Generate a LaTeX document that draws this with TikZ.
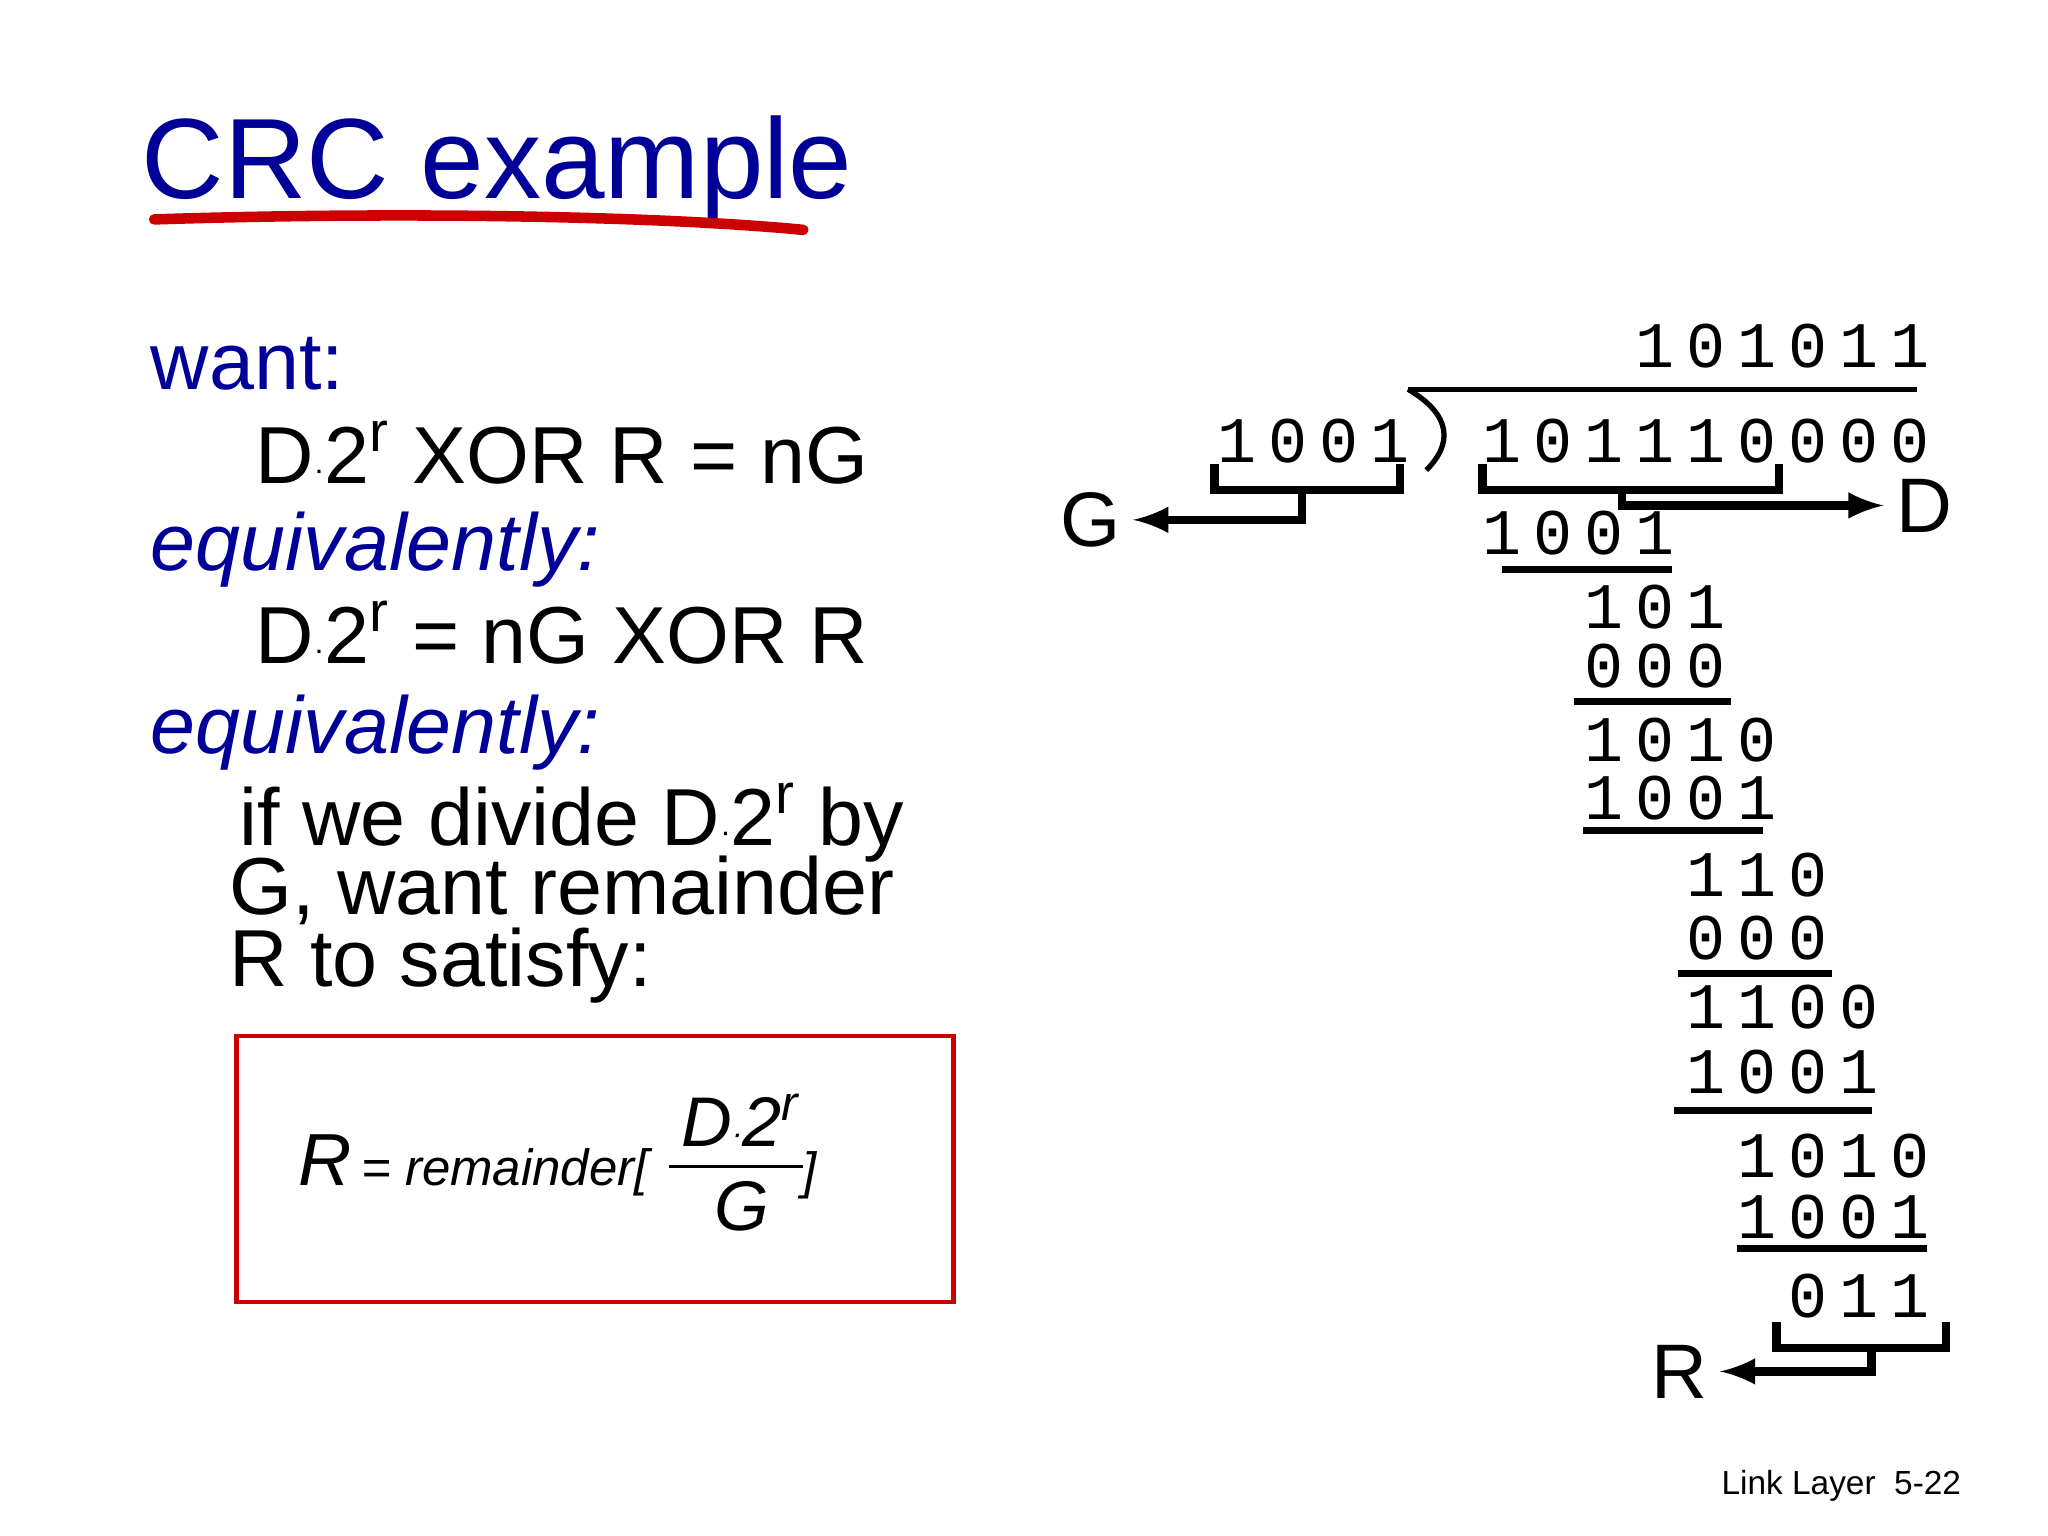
\documentclass[tikz,border=0pt]{standalone}
\usepackage{fontspec}
\setmainfont{Liberation Sans}
\newfontfamily\digits{Liberation Mono}
\usepackage{xcolor}
\definecolor{slideblue}{RGB}{0,0,153}
\definecolor{boxred}{RGB}{204,0,0}
\newcommand{\dd}{{\fontsize{9}{9}\selectfont\raisebox{.15ex}{·}}}

\begin{document}
\begin{tikzpicture}[x=0.013061cm,y=-0.013061cm,
	body/.style={anchor=base west,inner sep=0pt,font=\fontsize{23}{26}\selectfont},
	bit/.style={font=\digits\fontsize{18.5}{18.5}\selectfont,inner sep=0pt},
	bar/.style={line width=2pt},
	brk/.style={line width=2.4pt,-latex}]
	\useasboundingbox (0,0) rectangle (1568,1176);

	% title
	\node[anchor=base west,inner sep=0pt,text=slideblue,font=\fontsize{32.5}{34}\selectfont] (title) at (108,152) {CRC example};
	\draw[boxred,line width=3pt,line cap=round] (118,168) .. controls (300,162) and (500,165) .. (615,176);

	% left text
	\node[body,text=slideblue] (want) at (115,298) {want:};
	\node[body] (eq1) at (195,370) {D\dd2\textsuperscript{r} XOR R = nG};
	\node[body,text=slideblue,font=\fontsize{23}{26}\selectfont\itshape] (equiv1) at (115,437) {equivalently:};
	\node[body] (eq2) at (195,508) {D\dd2\textsuperscript{r} = nG XOR R};
	\node[body,text=slideblue,font=\fontsize{23}{26}\selectfont\itshape] (equiv2) at (115,577) {equivalently:};
	\node[body] (if1) at (183,647) {if we divide D\dd2\textsuperscript{r} by};
	\node[body] (if2) at (175,700) {G, want remainder};
	\node[body] (if3) at (175,755) {R to satisfy:};

	% boxed formula
	\draw[boxred,line width=1.2pt] (181,793) rectangle (730,997);
	\node[anchor=base west,inner sep=0pt,font=\fontsize{21}{21}\selectfont\itshape] (fR) at (228,908) {R};
	\node[anchor=base west,inner sep=0pt,font=\fontsize{14.5}{15}\selectfont\itshape] (frem) at (276,908) {= remainder[};
	\node[anchor=base,inner sep=0pt,font=\fontsize{20}{20}\selectfont\itshape] (fnum) at (567,878) {D\dd2\textsuperscript{r}};
	\node[anchor=base,inner sep=0pt,font=\fontsize{20}{20}\selectfont\itshape] (fden) at (568,942) {G};
	\draw[line width=1pt] (512,893) -- (615,893);
	\node[anchor=base west,inner sep=0pt,font=\fontsize{14.5}{15}\selectfont\itshape] (fclose) at (614,910) {]};

	% long division
	\foreach \row/\y/\s/\bits in {quot/265/3/{1,0,1,0,1,1}, dvd/338/0/{1,0,1,1,1,0,0,0,0},
		ra/408/0/{1,0,0,1}, rb/465/2/{1,0,1}, rc/510/2/{0,0,0}, rd/567/2/{1,0,1,0},
		re/611/2/{1,0,0,1}, rf/670/4/{1,1,0}, rg/718/4/{0,0,0}, rh/771/4/{1,1,0,0},
		ri/821/4/{1,0,0,1}, rj/885/5/{1,0,1,0}, rk/932/5/{1,0,0,1}, rem/992/6/{0,1,1}}
		\foreach \b [count=\i from 0] in \bits
			\node[bit] (\row\i) at ({1150+39*(\s+\i)},\y) {\b};
	\foreach \b [count=\i from 0] in {1,0,0,1}
		\node[bit] (gen\i) at ({947+39*\i},338) {\b};

	\draw[line width=1.5pt] (1078,298) -- (1468,298);
	\draw[line width=1.5pt] (1078,298) .. controls (1112,318) and (1112,340) .. (1092,360);

	\draw[bar] (1150,436) -- (1280,436);
	\draw[bar] (1205,537) -- (1325,537);
	\draw[bar] (1212,636) -- (1350,636);
	\draw[bar] (1285,745) -- (1403,745);
	\draw[bar] (1282,850) -- (1433,850);
	\draw[bar] (1330,956) -- (1475,956);

	% brackets
	\draw[line width=2.4pt] (930,355) |- (1072,375) -- (1072,355);
	\node[font=\fontsize{22}{22}\selectfont] (G) at (835,398) {G};
	\draw[brk] (997,377) |- (G.east);
	\draw[line width=2.4pt] (1135,355) |- (1362,375) -- (1362,355);
	\node[font=\fontsize{22}{22}\selectfont] (D) at (1473,387) {D};
	\draw[brk] (1242,377) |- (D.west);
	\draw[line width=2.4pt] (1360,1012) |- (1490,1032) -- (1490,1012);
	\node[font=\fontsize{22}{22}\selectfont] (R) at (1286,1050) {R};
	\draw[brk] (1433,1034) |- (R.east);

	% footer
	\node[anchor=base east,inner sep=0pt,font=\fontsize{9.5}{10}\selectfont] (foot) at (1502,1144) {Link Layer\ \ 5-22};
\end{tikzpicture}
\end{document}
